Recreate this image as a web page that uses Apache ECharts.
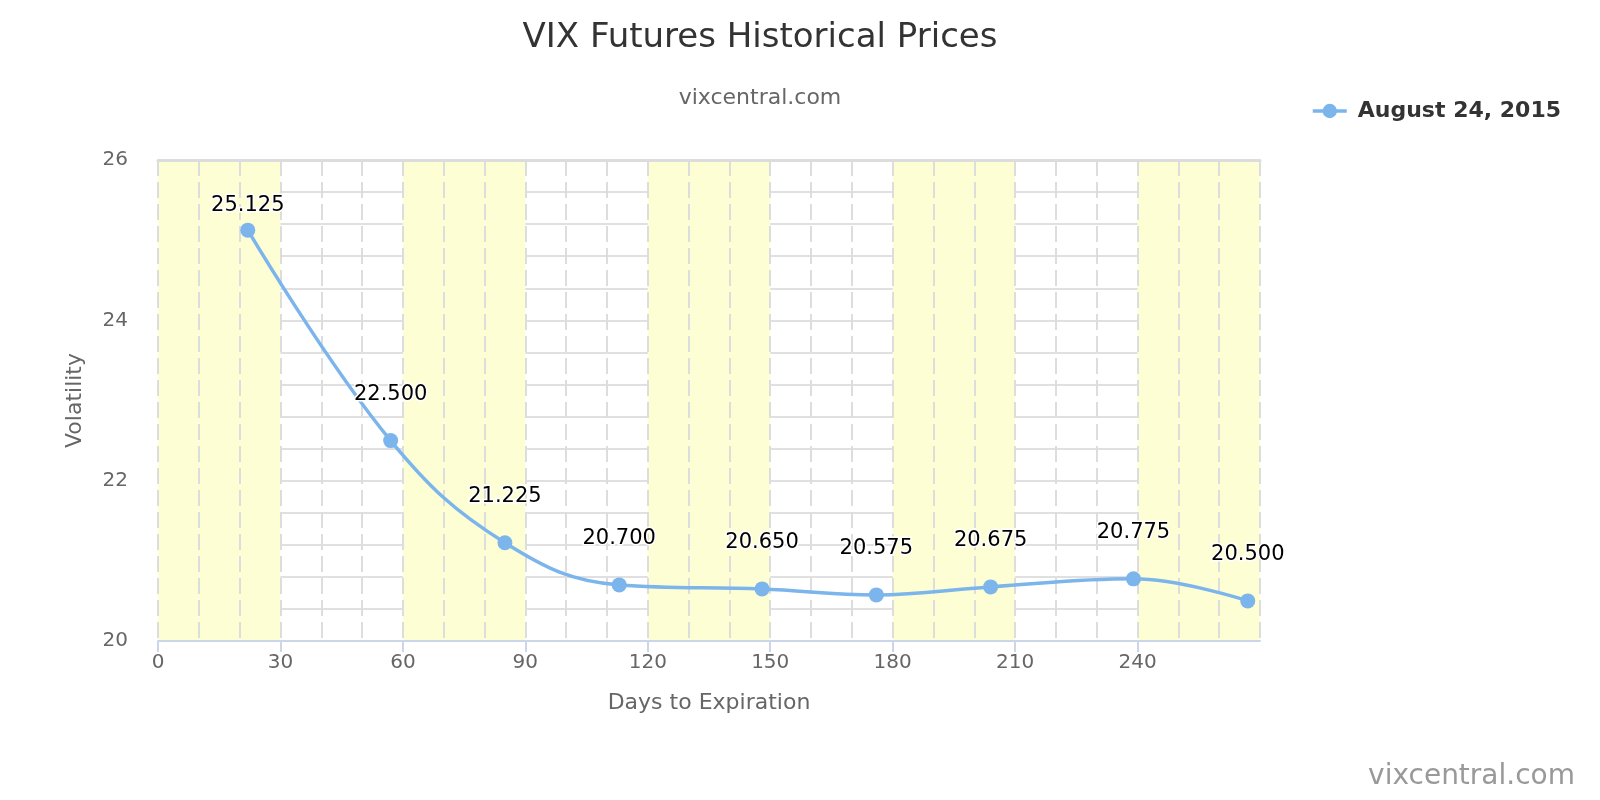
<!DOCTYPE html>
<html>
<head>
<meta charset="utf-8">
<script src="https://cdn.jsdelivr.net/npm/echarts@6/dist/echarts.min.js"></script>
<style>
  html, body { margin: 0; padding: 0; background: #fff; }
  #main { width: 1600px; height: 800px; }
</style>
</head>
<body>
<div id="main"></div>
<script>
// days to expiration for each futures contract
var days = [22, 57, 85, 113, 148, 176, 204, 239, 267];
// settle prices, August 24, 2015
var prices = [25.125, 22.5, 21.225, 20.7, 20.65, 20.575, 20.675, 20.775, 20.5];
var seriesName = 'August 24, 2015';
var xTicks = [0, 30, 60, 90, 120, 150, 180, 210, 240];
var yTicks = [20, 22, 24, 26];

var FONT = 'DejaVu Sans';
var chart = echarts.init(document.getElementById('main'));

var seriesData = days.map(function (d, i) {
  var item = { value: [d, prices[i]] };
  // first label sits close to the point (kept inside plot top)
  if (i === 0) {
    item.label = { distance: 7 };
  }
  return item;
});

var option = {
  backgroundColor: '#fff',
  animation: false,
  title: [{
    text: 'VIX Futures Historical Prices',
    left: 760,
    textAlign: 'center',
    top: 21,
    padding: 0,
    textStyle: { fontFamily: FONT, fontSize: 34, fontWeight: 'normal', color: '#333' }
  }, {
    text: 'vixcentral.com',
    left: 760,
    textAlign: 'center',
    top: 87,
    padding: 0,
    textStyle: { fontFamily: FONT, fontSize: 22, fontWeight: 'normal', color: '#666' }
  }, {
    text: 'vixcentral.com',
    right: 20,
    bottom: 4,
    textStyle: { fontFamily: FONT, fontSize: 28, fontWeight: 'normal', color: '#999' }
  }],
  legend: {
    right: 34,
    top: 95,
    itemWidth: 34,
    itemHeight: 18,
    lineStyle: { width: 3.5 },
    textStyle: { fontFamily: FONT, fontSize: 22, fontWeight: 'bold', color: '#333', padding: [0, 0, 0, 6] },
    data: [seriesName]
  },
  grid: { left: 158, right: 340, top: 160, bottom: 159 },
  xAxis: [{
    type: 'value',
    min: xTicks[0],
    max: 270,
    interval: 30,
    name: 'Days to Expiration',
    nameLocation: 'middle',
    nameGap: 51,
    nameTextStyle: { fontFamily: FONT, fontSize: 22, color: '#666' },
    axisLine: { show: true, lineStyle: { color: '#ccd6eb', width: 2 } },
    axisTick: { show: true, length: 11, lineStyle: { color: '#ccd6eb', width: 2 } },
    axisLabel: {
      fontFamily: FONT, fontSize: 20, color: '#666', margin: 12, showMaxLabel: false,
      formatter: function (v) { return xTicks.indexOf(v) >= 0 ? String(v) : ''; }
    },
    splitLine: { show: true, lineStyle: { color: '#dddddd', width: 2, type: [16, 6] } },
    minorTick: { show: false, splitNumber: 3 },
    minorSplitLine: { show: true, lineStyle: { color: '#dddddd', width: 2, type: [16, 6] } },
    splitArea: { show: true, areaStyle: { color: ['#fefed5', 'rgba(255,255,255,0)'] } }
  }, {
    type: 'value',
    position: 'top',
    min: xTicks[0],
    max: 270,
    axisLine: { show: true, lineStyle: { color: '#dcdcdc', width: 3 } },
    axisTick: { show: false },
    axisLabel: { show: false },
    splitLine: { show: false }
  }],
  yAxis: {
    type: 'value',
    min: yTicks[0],
    max: yTicks[yTicks.length - 1],
    interval: 2,
    name: 'Volatility',
    nameLocation: 'middle',
    nameRotate: 90,
    nameGap: 72,
    nameTextStyle: { fontFamily: FONT, fontSize: 22, color: '#666' },
    axisLine: { show: false },
    axisTick: { show: false },
    axisLabel: { fontFamily: FONT, fontSize: 20, color: '#666', margin: 30 },
    splitLine: { show: true, lineStyle: { color: '#e0e0e0', width: 2 } },
    minorTick: { show: false, splitNumber: 5 },
    minorSplitLine: { show: true, lineStyle: { color: '#e0e0e0', width: 2 } }
  },
  series: [{
    name: seriesName,
    type: 'line',
    xAxisIndex: 0,
    smooth: 0.4,
    symbol: 'circle',
    symbolSize: 15,
    lineStyle: { color: '#7cb5ec', width: 3.5 },
    itemStyle: { color: '#7cb5ec' },
    label: {
      show: true,
      position: 'top',
      distance: 28,
      fontFamily: FONT,
      fontSize: 21,
      color: '#000',
      textBorderColor: '#fff',
      textBorderWidth: 3,
      formatter: function (p) { return p.value[1].toFixed(3); }
    },
    data: seriesData
  }]
};

chart.setOption(option);
</script>
</body>
</html>
